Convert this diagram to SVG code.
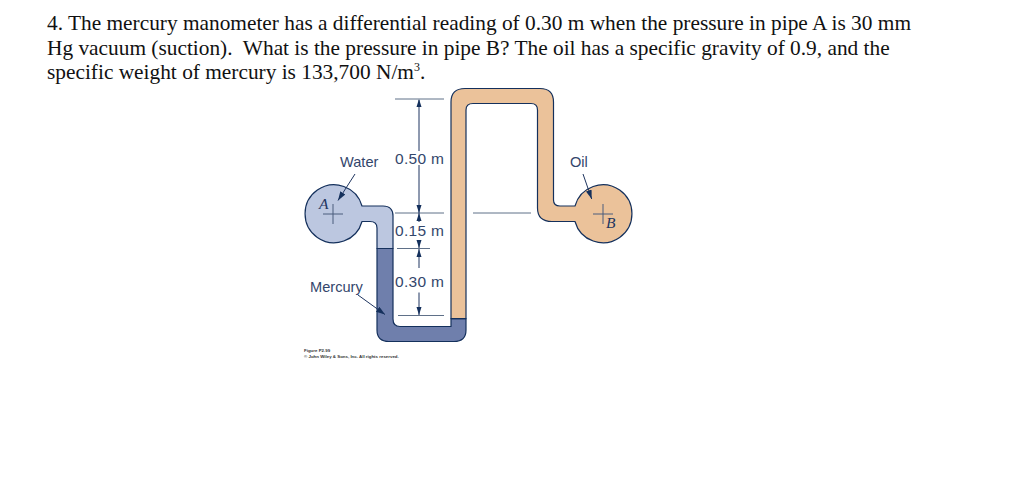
<svg xmlns="http://www.w3.org/2000/svg" width="1024" height="479" viewBox="0 0 1024 479">
<style>
.q{font-family:"Liberation Serif",serif;font-size:21.35px;fill:#111;white-space:pre}
.l{font-family:"Liberation Sans",Arial,sans-serif;font-size:14.6px;fill:#33466b}
.n{font-family:"Liberation Sans",Arial,sans-serif;font-size:15.5px;fill:#33466b;letter-spacing:.3px}
.i{font-family:"Liberation Serif",serif;font-style:italic;font-size:15.5px;fill:#1f3560}
.o{stroke:#14305c;stroke-width:1.2;stroke-linejoin:round}
.d{stroke:#5f7088;stroke-width:1;fill:none}
.a{stroke:#1f3560;stroke-width:1;fill:none}
.h{fill:#14305c;stroke:none}
.c{stroke:#4a5d7c;stroke-width:1;fill:none}
.f{font-family:"Liberation Sans",sans-serif;font-size:4.4px;font-weight:bold;fill:#333}
</style>
<defs>
<marker id="e" markerWidth="9" markerHeight="6" refX="9" refY="3" orient="auto" markerUnits="userSpaceOnUse"><path d="M0 0L9 3L0 6Z" fill="#14305c"/></marker>
</defs>
<rect width="1024" height="479" fill="#fff"/>
<g id="question">
<text class="q" xml:space="preserve" x="47" y="30">4. The mercury manometer has a differential reading of 0.30 m when the pressure in pipe A is 30 mm</text>
<text class="q" xml:space="preserve" x="47" y="54.5">Hg vacuum (suction).  What is the pressure in pipe B? The oil has a specific gravity of 0.9, and the</text>
<text class="q" x="47" y="79">specific weight of mercury is 133,700 N/m<tspan font-size="12" dy="-8">3</tspan><tspan dy="8">.</tspan></text>
</g>
<g id="pipe-a">
<path class="o" fill="#bcc7e0" d="M362 206H383Q393 206 393 216V248.5H377V228Q377 221.5 370 221.5H362A29 29 0 1 1 362 206Z"/>
<path class="c" d="M323 214H343M333 204V224"/>
<text class="i" x="319" y="209">A</text>
</g>
<g id="mercury-column">
<path class="o" fill="#6f7fac" d="M377 248.5H393V319Q393 326.5 400 326.5H451V318.7H466V330Q466 341.5 454 341.5H389Q377 341.5 377 330Z"/>
</g>
<g id="oil-column">
<path class="o" fill="#ebc29a" d="M451 318.7V102Q451 88.5 465 88.5H540Q553.5 88.5 553.5 102V200Q553.5 206 560 206H575A29 29 0 1 1 575 221.5H552Q537.5 221.5 537.5 208V110Q537.5 103.5 531 103.5H473Q466 103.5 466 110V318.7Z"/>
<path class="c" d="M593 214H613M603 204V224"/>
<text class="i" x="606" y="228">B</text>
</g>
<g id="connectors">
<path class="d" d="M395 99H444M395 213H444M473 213H531M397 248.5H430M398 315.5H444"/>
<path class="a" d="M419 100V151M419 165V213M419 213V222M419 240V248M419 249V268M419 292.5V315"/>
<path class="h" d="M419 99L421.5 107H416.5ZM419 213L421.5 205H416.5ZM419 213L421.5 221H416.5ZM419 248L421.5 240H416.5ZM419 249L421.5 257H416.5ZM419 315L421.5 307H416.5Z"/>
<path class="a" marker-end="url(#e)" d="M355 174L338 200.5"/>
<path class="a" marker-end="url(#e)" d="M358 295L385 314.5"/>
<path class="a" marker-end="url(#e)" d="M583 174L591.7 199"/>
</g>
<g id="labels">
<text class="l" x="340" y="167">Water</text>
<text class="n" x="395" y="163.5">0.50 m</text>
<text class="n" x="395" y="236">0.15 m</text>
<text class="n" x="395" y="287">0.30 m</text>
<text class="l" x="310" y="291.5">Mercury</text>
<text class="l" x="570" y="167">Oil</text>
<text class="f" x="304" y="352">Figure P2.99</text>
<text class="f" x="304" y="358">© John Wiley &amp; Sons, Inc. All rights reserved.</text>
</g>
</svg>
